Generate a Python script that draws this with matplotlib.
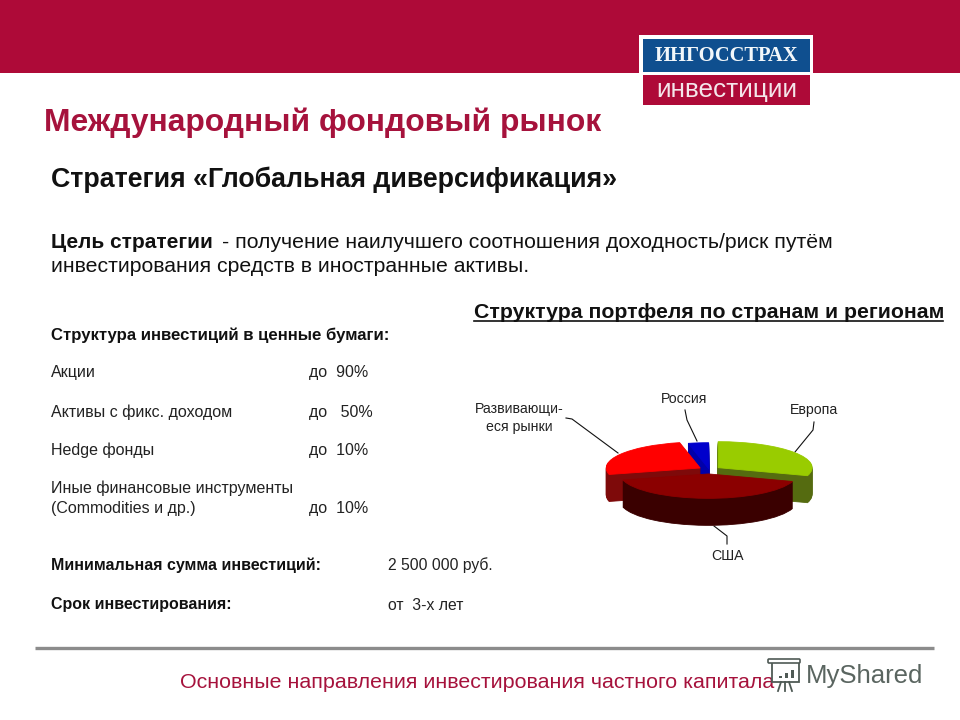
import matplotlib
matplotlib.use("Agg")
import matplotlib.pyplot as plt
from matplotlib.patches import Rectangle, FancyBboxPatch

plt.rcParams['font.family'] = ['Liberation Sans', 'DejaVu Sans']

regions = ["Европа", "США", "Развивающи-\nеся рынки", "Россия"]
shares = [30, 41, 25.5, 3.5]
explode = [0.12, 0.17, 0.11, 0.03]
top_colors = ["#99CC00", "#8B0000", "#FF0000", "#0000CC"]
side_colors = ["#556B10", "#3A0000", "#7E0A0A", "#0000AA"]
draw_rank = [1, 3, 2, 0]
radii = [1.0, 0.94, 1.0, 1.0]

allocation_labels = ["Акции", "Активы с фикс. доходом", "Hedge фонды",
                     "Иные финансовые инструменты\n(Commodities и др.)"]
allocation_limits = ["до  90%", "до   50%", "до  10%", "до  10%"]

fig = plt.figure(figsize=(9.6, 7.2), dpi=100, facecolor="white")
bg = fig.add_axes([0, 0, 1, 1])
bg.set_xlim(0, 960); bg.set_ylim(720, 0); bg.axis("off")

CRIMSON = "#AE0A38"
bg.add_patch(Rectangle((0, 0), 960, 73, color=CRIMSON, lw=0))

# logo
bg.add_patch(Rectangle((639, 35), 174, 71, color="white", lw=0))
bg.add_patch(Rectangle((643, 39), 167, 33, color="#0F4F8F", lw=0))
bg.add_patch(Rectangle((643, 75), 167, 30, color=CRIMSON, lw=0))
bg.text(726, 56, "ИНГОССТРАХ", family=["Liberation Serif"], weight="bold", size=14.8,
        color="#F2F7FA", ha="center", va="center")
bg.text(727, 90, "инвестиции", size=18.8, color="#F4E6EA", ha="center", va="center")

bg.text(44, 123, "Международный фондовый рынок", weight="bold", size=22.9,
        color="#A6123C", va="center")
bg.text(51, 180, "Стратегия «Глобальная диверсификация»", weight="bold", size=19.3,
        color="#111111", va="center")
bg.text(51, 242, "Цель стратегии", weight="bold", size=15, color="#111111", va="center")
bg.text(222, 242, "- получение наилучшего соотношения доходность/риск путём",
        size=15.3, color="#111111", va="center")
bg.text(51, 266, "инвестирования средств в иностранные активы.", size=15.3,
        color="#111111", va="center")
bg.text(474, 312, "Структура портфеля по странам и регионам", weight="bold", size=15.3,
        color="#111111", va="center")
bg.plot([474, 943], [321, 321], color="#111111", lw=1.2)

bg.text(51, 335, "Структура инвестиций в ценные бумаги:", weight="bold", size=12.05,
        color="#111111", va="center")
ys = [373, 412, 450, 498]
for y, lab, lim in zip(ys, allocation_labels, allocation_limits):
    bg.text(51, y, lab, size=11.55, color="#222222", va="center", linespacing=1.45)
    bg.text(309, y + 10 if "\n" in lab else y, lim, size=11.55, color="#222222", va="center")
bg.text(51, 565, "Минимальная сумма инвестиций:", weight="bold", size=11.57, color="#111111", va="center")
bg.text(388, 565, "2 500 000 руб.", size=11.35, color="#222222", va="center")
bg.text(51, 605, "Срок инвестирования:", weight="bold", size=11.57, color="#111111", va="center")
bg.text(388, 605, "от  3-х лет", size=11.35, color="#222222", va="center")

bg.plot([35, 934], [647.5, 647.5], color="#8C8C8C", lw=2.4, solid_capstyle="butt")
bg.text(180, 683, "Основные направления инвестирования частного капитала", size=15.4,
        color="#A6123C", va="center")

# watermark
bg.text(806, 676, "MyShared", size=18.5, color="#5A6560", va="center")
wm = "#4F5A55"
bg.add_patch(Rectangle((772, 662), 27, 20, fc="white", ec=wm, lw=1.3, zorder=3))
bg.add_patch(FancyBboxPatch((769, 660), 30, 2, boxstyle="round,pad=1", fc="white", ec=wm, lw=1.2, zorder=3))
for x, h in zip([779, 785, 791], [2, 5, 8]):
    bg.add_patch(Rectangle((x, 678 - h), 3, h, color=wm, lw=0, zorder=4))
for x0, x1 in [(781, 778), (785, 785), (789, 792)]:
    bg.plot([x0, x1], [682, 691], color=wm, lw=1.3, zorder=4)

# pie in its own axes: 1 unit = rx px in x, ry px in y
X0, X1, Y0, Y1 = 560, 860, 400, 550
pie = fig.add_axes([X0 / 960, 1 - Y1 / 720, (X1 - X0) / 960, (Y1 - Y0) / 720])
pie.patch.set_alpha(0)
cx, cy, rx, ry = 709, 469.5, 94.0, 26.0
DEPTH = 27
for d in range(DEPTH, -1, -1):
    colors = top_colors if d == 0 else side_colors
    wedges, _ = pie.pie(shares, explode=explode, colors=colors, startangle=90,
                        counterclock=False, center=(0, -d / ry), frame=False,
                        wedgeprops={"lw": 0.6})
    for i, w in enumerate(wedges):
        w.set_radius(radii[i])
        w.set_edgecolor(colors[i])
        w.set_zorder(draw_rank[i] * 100 + (DEPTH - d) + 1)
pie.set_aspect("auto")
pie.set_xlim((X0 - cx) / rx, (X1 - cx) / rx)
pie.set_ylim((cy - Y1) / ry, (cy - Y0) / ry)
pie.axis("off")

# labels with leader lines
lab_color = "#222222"
def leader(pts):
    bg.plot(*zip(*pts), color="#111111", lw=0.8, zorder=1)
bg.text(684, 399, regions[3], size=10.2, color=lab_color, ha="center", va="center")
leader([(685, 410), (687, 420), (697, 441)])
bg.text(814, 410, regions[0], size=10.2, color=lab_color, ha="center", va="center")
leader([(814, 422), (813, 430), (795, 452)])
bg.text(519, 418, regions[2], size=10.2, color=lab_color, ha="center", va="center", linespacing=1.3)
leader([(566, 418), (572, 419), (618, 453)])
bg.text(727, 556, regions[1], size=10.2, color=lab_color, ha="center", va="center")
leader([(727, 544), (727, 536), (714, 526)])

fig.savefig("out.png", dpi=100)
